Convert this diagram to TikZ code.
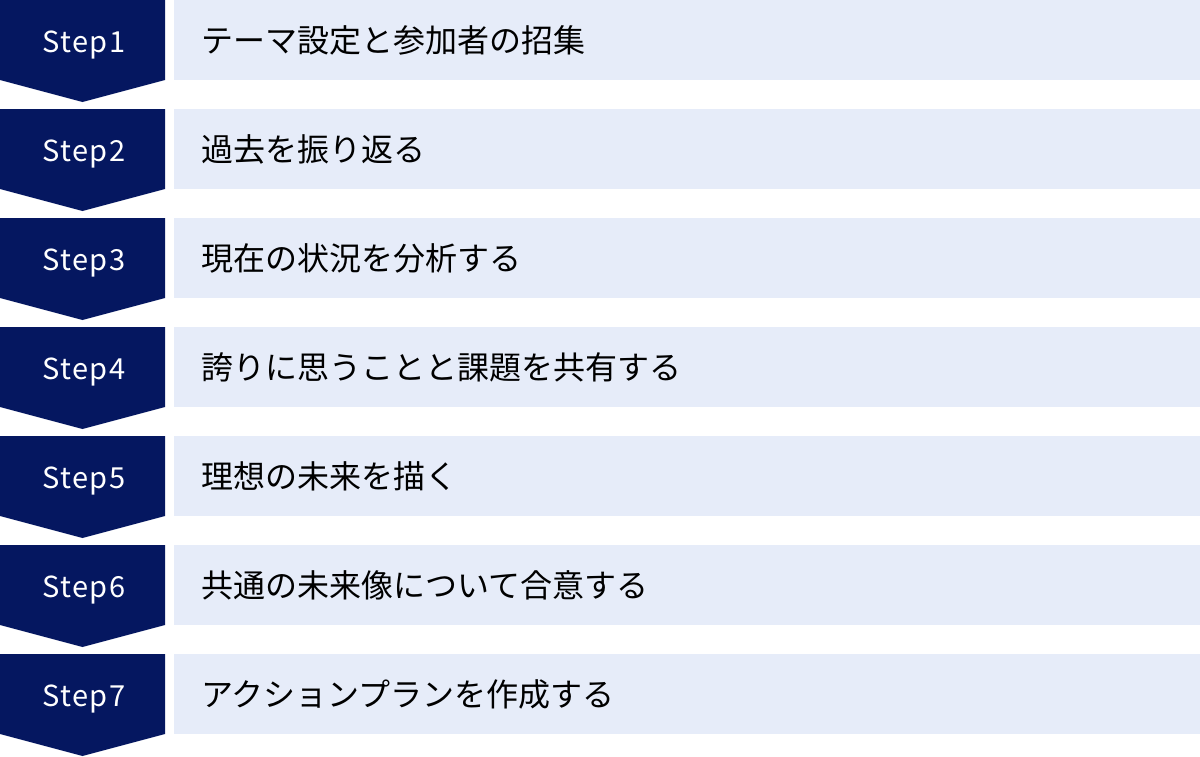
\documentclass[tikz,border=0pt]{standalone}
\usepackage{fontspec}
\setmainfont{Noto Sans CJK JP}
\newfontfamily\stepfont[LetterSpace=5]{Noto Sans CJK JP}
\usepackage{xcolor}
\usetikzlibrary{positioning}
\definecolor{stepnavy}{RGB}{5,23,96}
\definecolor{rowblue}{RGB}{230,236,249}
\def\rowsep{109}

\begin{document}
\begin{tikzpicture}[x=1pt,y=1pt]
	\tikzstyle{step label}=[text=white,font=\stepfont\fontsize{29}{29}\selectfont,inner sep=0pt,anchor=base]
	\tikzstyle{row box}=[fill=rowblue,minimum width=1026pt,minimum height=80pt,inner sep=0pt,anchor=north west]
	\tikzstyle{row text}=[font=\fontsize{32}{32}\selectfont,inner sep=0pt]
	\useasboundingbox (0,0) rectangle (1200,-756);

	% Draw one row per step: the arrow, its label and the task box
	\foreach \i / \task in {1/テーマ設定と参加者の招集,2/過去を振り返る,3/現在の状況を分析する,4/誇りに思うことと課題を共有する,5/理想の未来を描く,6/共通の未来像について合意する,7/アクションプランを作成する} {
	\pgfmathsetmacro\rowtop{-(\i-1)*\rowsep}
	\fill[stepnavy] (0,\rowtop) -- ++(165,0) -- ++(0,-80) -- ++(-82.5,-22) -- ++(-82.5,22) -- cycle;
	\node[step label] (S-\i) at (84,\rowtop-52) {Step\i};
	\node[row box] (R-\i) at (174,\rowtop) {};
	\node[row text, right=27pt of R-\i.west] (T-\i) {\task};
	}
\end{tikzpicture}
\end{document}
